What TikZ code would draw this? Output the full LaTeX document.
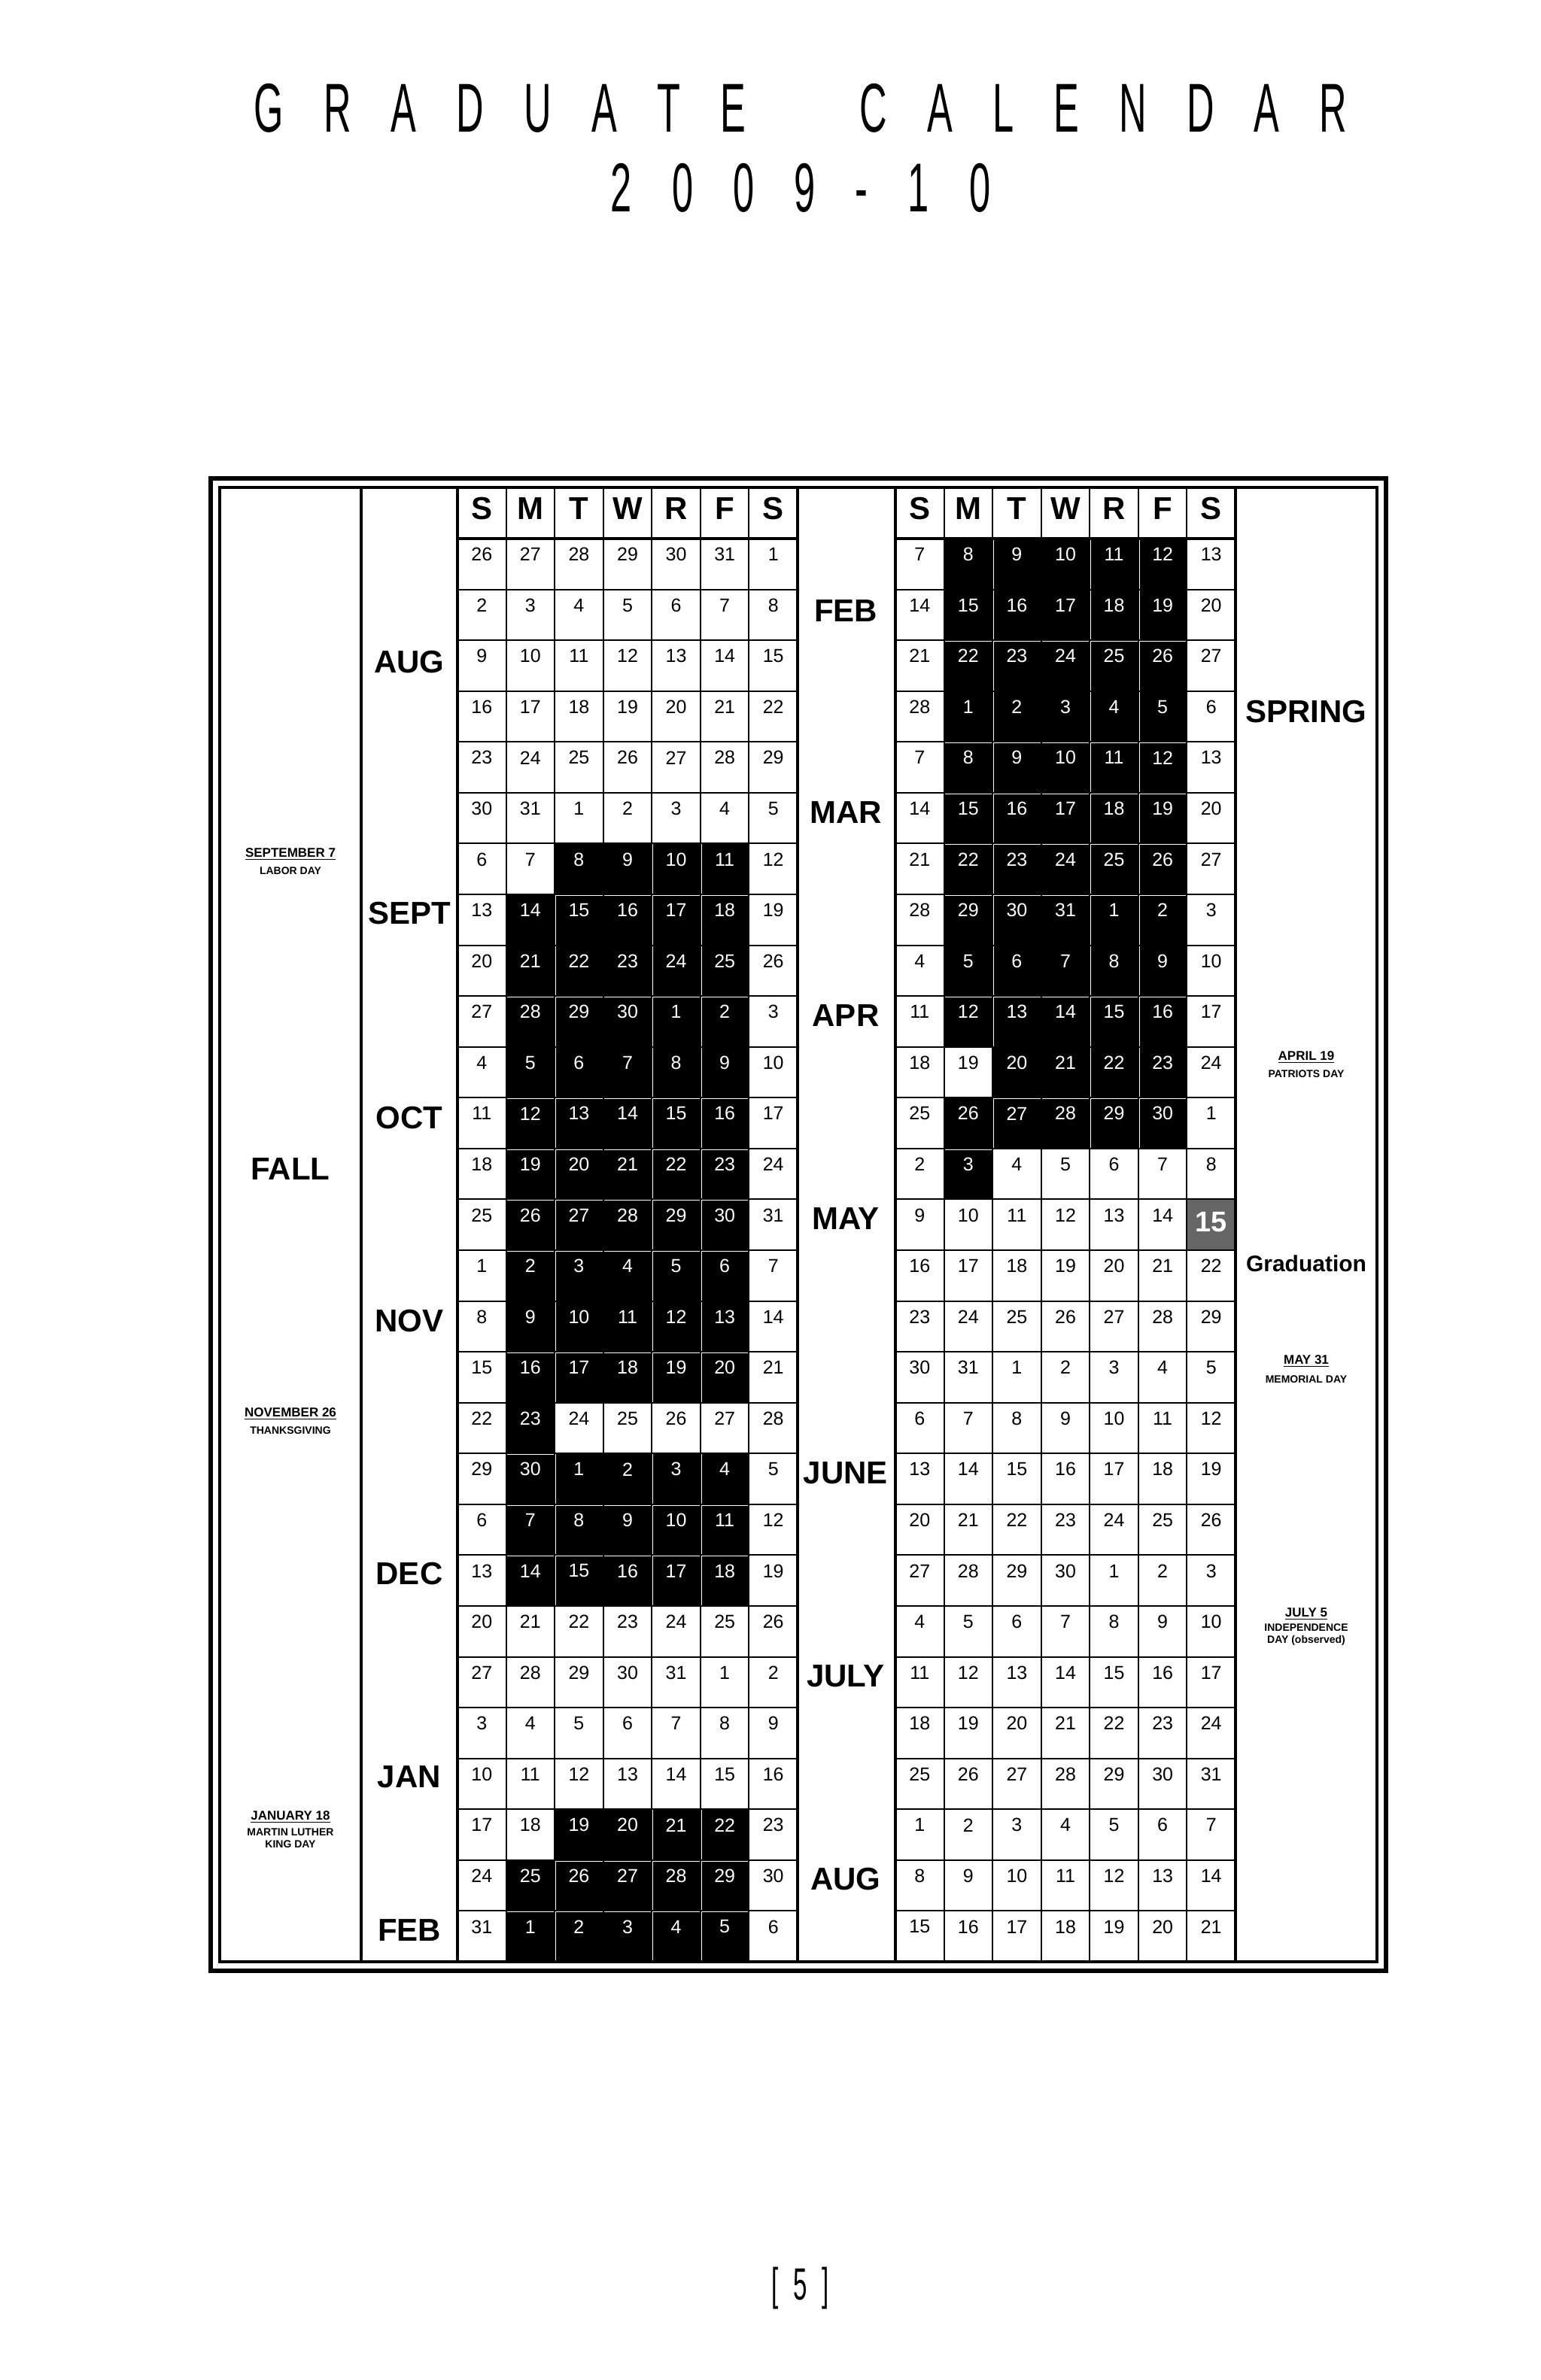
\documentclass[tikz,border=0pt]{standalone}
\usepackage{fontspec}
\setmainfont{Liberation Sans}
\begin{document}
\begin{tikzpicture}[x=1pt,y=-1pt,
 num/.style={font=\fontsize{12.5}{13}\selectfont,inner sep=0,anchor=center},
 mon/.style={font=\fontsize{21}{22}\selectfont\bfseries,inner sep=0},
 hd/.style={font=\fontsize{21}{22}\selectfont\bfseries,inner sep=0},
 hol/.style={font=\fontsize{8.5}{9}\selectfont\bfseries,inner sep=0},
 holsub/.style={font=\fontsize{7}{8}\selectfont\bfseries,inner sep=0,align=center},
 thick1/.style={line width=2pt},
 thin1/.style={line width=1pt}]
\useasboundingbox (0,0) rectangle (1024,1582);
% title
\node[inner sep=0,font=\fontsize{46}{48}\selectfont,xscale=0.55] (t1) at (532,72) {G\hspace{1.05em}R\hspace{1.05em}A\hspace{1.05em}D\hspace{1.05em}U\hspace{1.05em}A\hspace{1.05em}T\hspace{1.05em}E\hspace{3.0em}C\hspace{1.05em}A\hspace{1.05em}L\hspace{1.05em}E\hspace{1.05em}N\hspace{1.05em}D\hspace{1.05em}A\hspace{1.05em}R};
\node[inner sep=0,font=\fontsize{46}{48}\selectfont,xscale=0.55] (t2) at (532,125) {2\hspace{1.05em}0\hspace{1.05em}0\hspace{1.05em}9\hspace{1.05em}-\hspace{1.05em}1\hspace{1.05em}0};
\node[inner sep=0,font=\fontsize{30}{32}\selectfont,xscale=0.55] (pg) at (532,1521) {[\hspace{0.6em}5\hspace{0.6em}]};
% left days
\def\w{32.286}\def\h{33.786}
\foreach \r/\s/\L/\f/\t/\a/\b in {0/26/31/9/-1/9/-1,1/2/31/9/-1/9/-1,2/9/31/9/-1/9/-1,3/16/31/9/-1/9/-1,4/23/31/9/-1/9/-1,5/30/31/9/-1/9/-1,6/6/30/2/5/9/-1,7/13/30/1/5/2/5,8/20/30/1/5/1/5,9/27/30/1/5/1/5,10/4/31/1/5/1/5,11/11/31/1/5/1/5,12/18/31/1/5/1/5,13/25/31/1/5/1/5,14/1/30/1/5/1/5,15/8/30/1/5/1/5,16/15/30/1/5/1/5,17/22/30/1/1/1/1,18/29/30/1/5/1/1,19/6/31/1/5/1/5,20/13/31/1/5/1/5,21/20/31/9/-1/9/-1,22/27/31/9/-1/9/-1,23/3/31/9/-1/9/-1,24/10/31/9/-1/9/-1,25/17/31/2/5/9/-1,26/24/31/1/5/2/5,27/31/31/1/5/1/5}{
 \foreach \c in {0,...,6}{
  \pgfmathtruncatemacro\d{(\s+\c>\L) ? (\s+\c-\L) : (\s+\c)}
  \pgfmathtruncatemacro\sh{and(\c>=\f,\c<=\t)}
  \pgfmathtruncatemacro\tp{and(\c>=\a,\c<=\b)}
  \pgfmathtruncatemacro\lf{and(\sh==1,\c>\f)}
  \pgfmathsetmacro\xx{304+\c*\w}
  \pgfmathsetmacro\yy{358+\r*\h}
  \ifnum\sh=1
   \fill (\xx,\yy) rectangle +(\w,\h);
   \ifnum\tp=1 \draw[white,line width=0.9pt] (\xx,\yy+0.4) -- +(\w,0); \fi
   \ifnum\lf=1 \draw[white,line width=0.9pt] (\xx+0.4,\yy) -- +(0,\h); \fi
   \node[num,text=white] (L-\r-\c) at (\xx+\w/2,\yy+10.5) {\d};
  \else
   \node[num] (L-\r-\c) at (\xx+\w/2,\yy+10.5) {\d};
  \fi
 }}
% right days
\foreach \r/\s/\L/\f/\t/\a/\b in {0/7/28/1/5/9/-1,1/14/28/1/5/1/5,2/21/28/1/5/1/5,3/28/28/1/5/1/5,4/7/31/1/5/1/5,5/14/31/1/5/1/5,6/21/31/1/5/1/5,7/28/31/1/5/1/5,8/4/30/1/5/1/5,9/11/30/1/5/1/5,10/18/30/2/5/2/5,11/25/30/1/5/2/5,12/2/31/1/1/1/1,13/9/31/9/-1/9/-1,14/16/31/9/-1/9/-1,15/23/31/9/-1/9/-1,16/30/31/9/-1/9/-1,17/6/30/9/-1/9/-1,18/13/30/9/-1/9/-1,19/20/30/9/-1/9/-1,20/27/30/9/-1/9/-1,21/4/31/9/-1/9/-1,22/11/31/9/-1/9/-1,23/18/31/9/-1/9/-1,24/25/31/9/-1/9/-1,25/1/31/9/-1/9/-1,26/8/31/9/-1/9/-1,27/15/31/9/-1/9/-1}{
 \foreach \c in {0,...,6}{
  \pgfmathtruncatemacro\d{(\s+\c>\L) ? (\s+\c-\L) : (\s+\c)}
  \pgfmathtruncatemacro\sh{and(\c>=\f,\c<=\t)}
  \pgfmathtruncatemacro\tp{and(\c>=\a,\c<=\b)}
  \pgfmathtruncatemacro\lf{and(\sh==1,\c>\f)}
  \pgfmathtruncatemacro\spc{and(\r==13,\c==6)}
  \pgfmathsetmacro\xx{595+\c*\w}
  \pgfmathsetmacro\yy{358+\r*\h}
  \ifnum\spc=1
   \fill[black!60] (\xx,\yy) rectangle +(\w,\h);
   \node[inner sep=0,text=white,font=\fontsize{19}{20}\selectfont\bfseries] (R-\r-\c) at (\xx+\w/2,\yy+\h/2-2) {\d};
  \else\ifnum\sh=1
   \fill (\xx,\yy) rectangle +(\w,\h);
   \ifnum\tp=1 \draw[white,line width=0.9pt] (\xx,\yy+0.4) -- +(\w,0); \fi
   \ifnum\lf=1 \draw[white,line width=0.9pt] (\xx+0.4,\yy) -- +(0,\h); \fi
   \node[num,text=white] (R-\r-\c) at (\xx+\w/2,\yy+10.5) {\d};
  \else
   \node[num] (R-\r-\c) at (\xx+\w/2,\yy+10.5) {\d};
  \fi\fi
 }}
% grid
\foreach \xo in {304,595}{
 \foreach \i in {1,...,6}{\draw[thin1] (\xo+\i*\w,324) -- (\xo+\i*\w,1304);}
 \foreach \j in {1,...,27}{\draw[thin1] (\xo,358+\j*\h) -- (\xo+7*\w,358+\j*\h);}
 \draw[thick1] (\xo,358) -- (\xo+7*\w,358);
}
\foreach \x in {240,304,530,595,821}{\draw[thick1] (\x,324) -- (\x,1304);}
\draw[line width=3pt] (140,318) rectangle (921,1310);
\draw[thick1] (146,324) rectangle (915,1304);
% headers
\foreach \n/\l in {0/S,1/M,2/T,3/W,4/R,5/F,6/S}{
 \node[hd] (HL\n) at (304+\n*\w+\w/2,338) {\l};
 \node[hd] (HR\n) at (595+\n*\w+\w/2,338) {\l};}
% months
\foreach \m/\y [count=\k] in {AUG/440,SEPT/607,OCT/743,NOV/878,DEC/1046,JAN/1181,FEB/1283}{\node[mon] (ML\k) at (272,\y) {\m};}
\foreach \m/\y [count=\k] in {FEB/406,MAR/540,APR/675,MAY/810,JUNE/979,JULY/1114,AUG/1249}{\node[mon] (MR\k) at (562,\y) {\m};}
% side labels
\node[mon] (fall) at (193,777) {FALL};
\node[mon] (spring) at (868,473) {SPRING};
\node[inner sep=0,font=\fontsize{15}{16}\selectfont\bfseries] (grad) at (868,840) {Graduation};
\node[hol] (h1) at (193,568) {\underline{SEPTEMBER 7}};
\node[holsub] (h1s) at (193,579) {LABOR DAY};
\node[hol] (h2) at (193,940) {\underline{NOVEMBER 26}};
\node[holsub] (h2s) at (193,951) {THANKSGIVING};
\node[hol] (h3) at (193,1208) {\underline{JANUARY 18}};
\node[holsub,anchor=north] (h3s) at (193,1215) {MARTIN LUTHER\\KING DAY};
\node[hol] (h4) at (868,703) {\underline{APRIL 19}};
\node[holsub] (h4s) at (868,714) {PATRIOTS DAY};
\node[hol] (h5) at (868,905) {\underline{MAY 31}};
\node[holsub] (h5s) at (868,917) {MEMORIAL DAY};
\node[hol] (h6) at (868,1073) {\underline{JULY 5}};
\node[holsub,anchor=north] (h6s) at (868,1079) {INDEPENDENCE\\DAY (observed)};
\end{tikzpicture}
\end{document}
